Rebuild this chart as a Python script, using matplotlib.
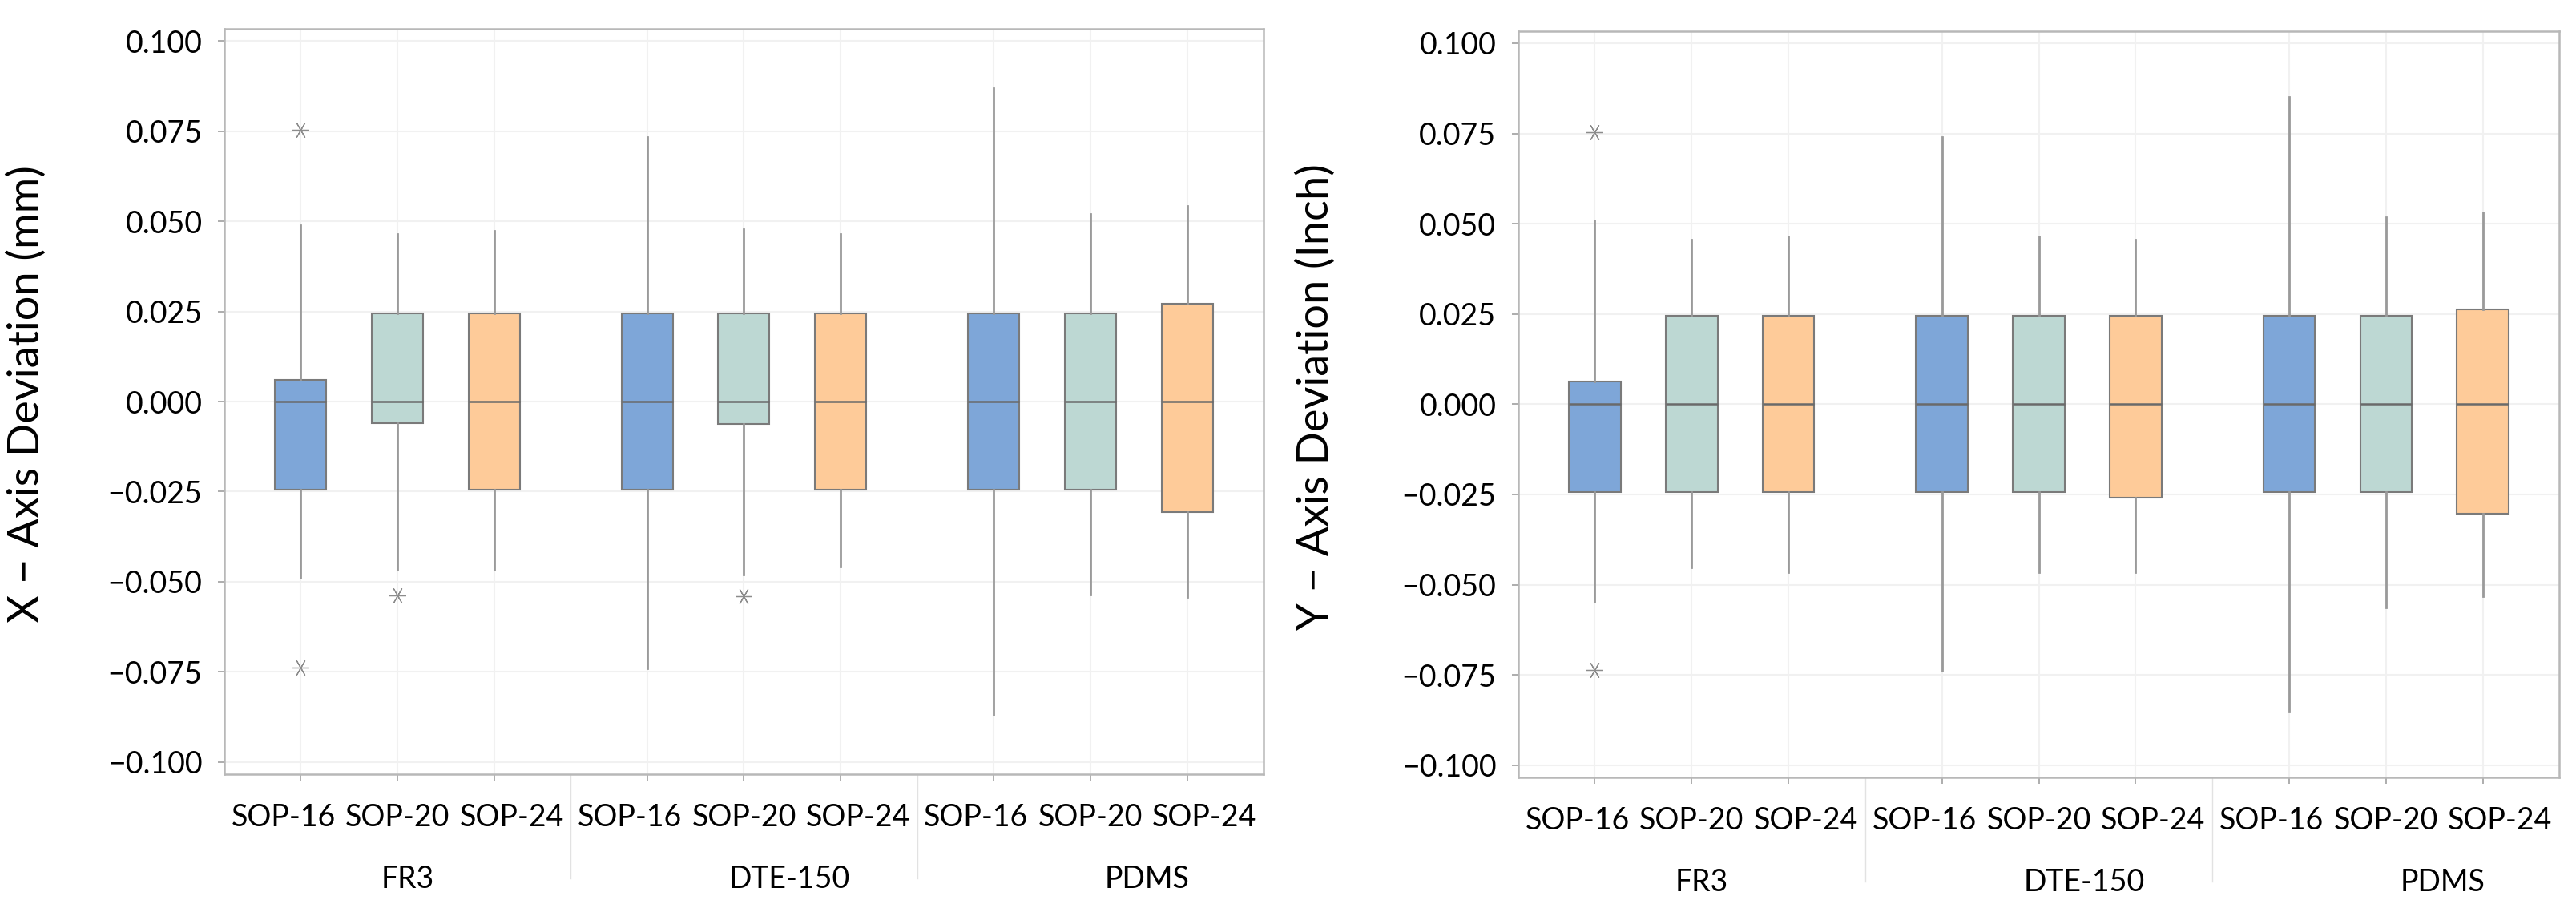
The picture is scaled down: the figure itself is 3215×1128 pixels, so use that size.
import matplotlib
matplotlib.use('Agg')
import matplotlib.pyplot as plt
import matplotlib.transforms as mtransforms

plt.rcParams['font.family'] = ['Lato', 'DejaVu Sans']
plt.rcParams['axes.unicode_minus'] = True

# 数据
categories = ['SOP-16', 'SOP-20', 'SOP-24'] * 3
groups = ['FR3', 'DTE-150', 'PDMS']

# X 轴偏差 (mm)
x_med = [0, 0, 0, 0, 0, 0, 0, 0, 0]
x_q1 = [-0.0245, -0.0060, -0.0245, -0.0245, -0.0062, -0.0245, -0.0245, -0.0245, -0.0306]
x_q3 = [0.0061, 0.0245, 0.0245, 0.0245, 0.0245, 0.0245, 0.0245, 0.0245, 0.0272]
x_lo = [-0.0490, -0.0466, -0.0466, -0.0740, -0.0480, -0.0457, -0.0869, -0.0536, -0.0543]
x_hi = [0.0489, 0.0465, 0.0473, 0.0735, 0.0478, 0.0465, 0.0869, 0.0520, 0.0542]
x_fliers = [[0.0754, -0.0738], [-0.0539], [], [], [-0.0540], [], [], [], []]

# Y 轴偏差 (Inch)
y_med = [0, 0, 0, 0, 0, 0, 0, 0, 0]
y_q1 = [-0.0244, -0.0244, -0.0244, -0.0244, -0.0244, -0.0260, -0.0244, -0.0244, -0.0304]
y_q3 = [0.0062, 0.0244, 0.0244, 0.0244, 0.0244, 0.0244, 0.0244, 0.0244, 0.0262]
y_lo = [-0.0547, -0.0453, -0.0465, -0.0739, -0.0465, -0.0465, -0.0851, -0.0564, -0.0532]
y_hi = [0.0510, 0.0455, 0.0465, 0.0739, 0.0465, 0.0455, 0.0851, 0.0517, 0.0532]
y_fliers = [[0.0754, -0.0736], [], [], [], [], [], [], [], []]

colors = ['#7ea6d8', '#bdd8d3', '#fecb99']
positions = [0, 1, 2, 3.58, 4.58, 5.58, 7.16, 8.16, 9.16]
group_x = [1.1, 5.05, 8.75]
seps = [2.79, 6.37]
label_step = 1.18   # 刻度文字比箱体间距略宽


def draw_panel(ax, med, q1, q3, lo, hi, fliers, ylabel, label_x):
    stats = []
    for i in range(len(med)):
        stats.append({'med': med[i], 'q1': q1[i], 'q3': q3[i],
                      'whislo': lo[i], 'whishi': hi[i], 'fliers': fliers[i]})
    bp = ax.bxp(stats, positions=positions, widths=0.53, patch_artist=True,
                showcaps=False,
                boxprops=dict(edgecolor='#7a7a7a', linewidth=1.5),
                medianprops=dict(color='#6a6a6a', linewidth=1.8),
                whiskerprops=dict(color='#9a9a9a', linewidth=2),
                flierprops=dict(marker=(6, 2, 30), markersize=15,
                                markeredgecolor='#8c8c8c', markeredgewidth=0.9,
                                linestyle='none'))
    for i, box in enumerate(bp['boxes']):
        box.set_facecolor(colors[i % 3])

    ax.set_xlim(-0.79, 9.95)
    ax.set_ylim(-0.1034, 0.1034)
    ax.set_yticks([-0.1, -0.075, -0.05, -0.025, 0, 0.025, 0.05, 0.075, 0.1])
    ax.yaxis.set_major_formatter(plt.FuncFormatter(
        lambda v, p: ('\u2212' if v < -1e-9 else '') + '%.3f' % abs(v)))

    # 主刻度在箱体处，文字放在次刻度上
    ax.xaxis.remove_overlapping_locs = False
    ax.set_xticks(positions)
    ax.set_xticklabels([])
    label_pos = []
    for g in range(3):
        c = positions[g * 3 + 1]
        label_pos += [c - label_step, c, c + label_step]
    ax.set_xticks(label_pos, minor=True)
    ax.set_xticklabels(categories, minor=True)
    ax.tick_params(axis='x', which='minor', length=0, labelsize=27, pad=26)
    ax.tick_params(axis='both', which='major', labelsize=27, length=5.8,
                   color='#a0a0a0', width=1.2)
    ax.tick_params(axis='y', pad=14)

    ax.grid(True, which='major', color='#f1f1f1', linewidth=1.5)
    ax.set_axisbelow(True)
    for s in ax.spines.values():
        s.set_color('#b8b8b8')
        s.set_linewidth(1.8)

    ax.set_ylabel(ylabel, fontsize=39)
    ax.yaxis.set_label_coords(label_x, 0.51)

    trans = mtransforms.blended_transform_factory(ax.transData, ax.transAxes)
    for gx, g in zip(group_x, groups):
        ax.text(gx, -0.141, g, transform=trans, ha='center', va='center',
                fontsize=27)
    for sx in seps:
        ax.plot([sx, sx], [0, -0.14], transform=trans, color='#e2e2e2',
                linewidth=1, clip_on=False)


fig = plt.figure(figsize=(32.15, 11.28), dpi=100)
ax1 = fig.add_axes([0.0871, 0.1436, 0.4034, 0.8244])
ax2 = fig.add_axes([0.5894, 0.1400, 0.4041, 0.8258])

draw_panel(ax1, x_med, x_q1, x_q3, x_lo, x_hi, x_fliers,
           'X \u2212 Axis Deviation (mm)', -0.171)
draw_panel(ax2, y_med, y_q1, y_q3, y_lo, y_hi, y_fliers,
           'Y \u2212 Axis Deviation (Inch)', -0.1755)

fig.savefig('out.png', dpi=100)
